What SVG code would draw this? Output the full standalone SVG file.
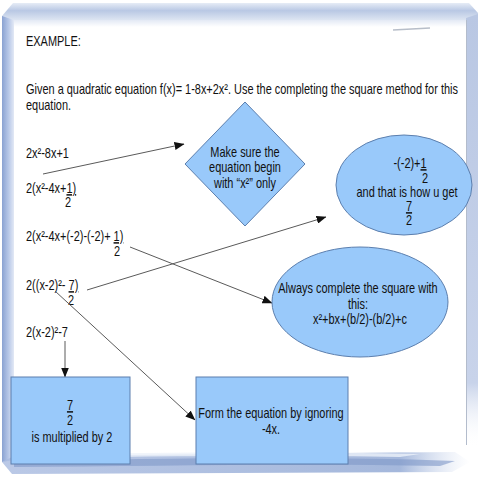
<svg xmlns="http://www.w3.org/2000/svg" width="480" height="480" viewBox="0 0 480 480">
<style>
text{font-family:"Liberation Sans",Arial,sans-serif;font-size:15px;fill:#111}
.u{text-decoration:underline}
.node{fill:#99c9fa;stroke:#5c7fae;stroke-width:1}
.conn{stroke:#5a5a5a;stroke-width:1;fill:none;marker-end:url(#arr)}
</style>
<defs>
<marker id="arr" markerWidth="10" markerHeight="8" refX="9.5" refY="4" orient="auto" markerUnits="userSpaceOnUse"><path d="M0,0 L10,4 L0,8 z" fill="#111"/></marker>
<linearGradient id="gTop" x1="0" y1="0" x2="0" y2="1"><stop offset="0" stop-color="#e6ecf6"/><stop offset=".45" stop-color="#b9c8e4"/><stop offset="1" stop-color="#dde5f2"/></linearGradient>
<linearGradient id="gLeft" x1="0" y1="0" x2="1" y2="0"><stop offset="0" stop-color="#8aa2d2"/><stop offset=".55" stop-color="#b8c8e8"/><stop offset="1" stop-color="#e3e9f5"/></linearGradient>
<linearGradient id="gRight" x1="0" y1="0" x2="0" y2="1"><stop offset="0" stop-color="#b9c7e3"/><stop offset=".85" stop-color="#c8d3ea"/><stop offset="1" stop-color="#ffffff" stop-opacity="0"/></linearGradient>
<linearGradient id="gBot" x1="0" y1="0" x2="1" y2="0"><stop offset="0" stop-color="#a9bbe0"/><stop offset=".85" stop-color="#8ea6d3"/><stop offset="1" stop-color="#c8d4ec" stop-opacity="0"/></linearGradient>
<linearGradient id="gBand" x1="0" y1="0" x2="0" y2="1"><stop offset="0" stop-color="#dfe6f3"/><stop offset="1" stop-color="#ffffff"/></linearGradient>
</defs>
<rect width="480" height="480" fill="#ffffff"/>
<g id="frame">
<rect x="14" y="19" width="452" height="8" fill="url(#gBand)"/>
<path d="M2,16 L13,3 L469,3 L478,13 L478,20 L2,20 z" fill="url(#gTop)"/>
<path d="M466,18 L478,14 L478,448 L466,448 z" fill="url(#gRight)"/>
<line x1="466.5" y1="20" x2="466.5" y2="445" stroke="#b3bccc" stroke-width="1"/>
<path d="M2,16 L14,20 L14,460 L2,462 z" fill="url(#gLeft)"/>
<path d="M2,462 L14,456 L455,452 L470,462 L452,472 L12,474 z" fill="url(#gBot)" opacity=".8"/>
<path d="M14,462 C150,458 320,456 455,461 L440,466 C300,463 150,466 14,467 z" fill="#7f98c8" opacity=".6"/>
<path d="M30,455 C150,452 300,451 420,454 L400,457 C300,455 150,456 30,458 z" fill="#eef2fa" opacity=".8"/>
<path d="M393,30 L430,28" stroke="#9aa3b3" stroke-width="1.5" opacity=".7"/>
</g>
<g id="texts">
<text transform="translate(26,46) scale(.73,1)">EXAMPLE:</text>
<text transform="translate(26,0) scale(.73,1)"><tspan x="0" y="94">Given a quadratic equation f(x)= 1-8x+2x². Use the completing the square method for this</tspan><tspan x="0" y="110">equation.</tspan></text>
<text transform="translate(26,158) scale(.73,1)">2x²-8x+1</text>
<text transform="translate(26,0) scale(.73,1)"><tspan x="0" y="193">2(x²-4x+<tspan class="u">1)</tspan></tspan><tspan x="57.5" y="207" text-anchor="middle">2</tspan></text>
<text transform="translate(26,0) scale(.73,1)"><tspan x="0" y="241">2(x²-4x+(-2)-(-2)+ <tspan class="u">1)</tspan></tspan><tspan x="124.7" y="256" text-anchor="middle">2</tspan></text>
<text transform="translate(26,0) scale(.73,1)"><tspan x="0" y="290">2((x-2)²- <tspan class="u">7)</tspan></tspan><tspan x="61.6" y="305" text-anchor="middle">2</tspan></text>
<text transform="translate(26,337) scale(.73,1)">2(x-2)²-7</text>
</g>
<g id="connectors">
<line class="conn" x1="43" y1="174" x2="184" y2="144"/>
<line class="conn" x1="130" y1="247" x2="272" y2="303"/>
<line class="conn" x1="87" y1="290" x2="326" y2="217"/>
<line class="conn" x1="55" y1="291" x2="195" y2="420"/>
<line class="conn" x1="65" y1="341" x2="65" y2="377"/>
</g>
<g id="diamond">
<path class="node" d="M245,102 L305,164 L245,226 L185,164 z"/>
<text transform="translate(245,0) scale(.73,1)" text-anchor="middle"><tspan x="0" y="157">Make sure the</tspan><tspan x="0" y="172.5">equation begin</tspan><tspan x="0" y="188">with “x²” only</tspan></text>
</g>
<g id="ellipse1">
<ellipse class="node" cx="404" cy="185" rx="68" ry="50"/>
<text transform="translate(409,0) scale(.73,1)" text-anchor="middle"><tspan x="1.4" y="168">-(-2)+<tspan class="u">1</tspan></tspan><tspan x="21.9" y="183">2</tspan><tspan x="-2.7" y="197">and that is how u get</tspan><tspan x="0" y="211" class="u">7</tspan><tspan x="0" y="225">2</tspan></text>
</g>
<g id="ellipse2">
<ellipse class="node" cx="360" cy="302" rx="88" ry="55"/>
<text transform="translate(358,0) scale(.73,1)" text-anchor="middle"><tspan x="0" y="293">Always complete the square with</tspan><tspan x="0" y="309">this:</tspan><tspan x="2.7" y="324">x²+bx+(b/2)-(b/2)+c</tspan></text>
</g>
<g id="rect1">
<rect class="node" x="11" y="377" width="119" height="87"/>
<text transform="translate(70,0) scale(.73,1)" text-anchor="middle"><tspan x="0" y="410" class="u">7</tspan><tspan x="0" y="425">2</tspan><tspan x="2.7" y="442">is multiplied by 2</tspan></text>
</g>
<g id="rect2">
<rect class="node" x="196" y="377" width="152" height="87"/>
<text transform="translate(271,0) scale(.73,1)" text-anchor="middle"><tspan x="0" y="418">Form the equation by ignoring</tspan><tspan x="0" y="434">-4x.</tspan></text>
</g>
</svg>
